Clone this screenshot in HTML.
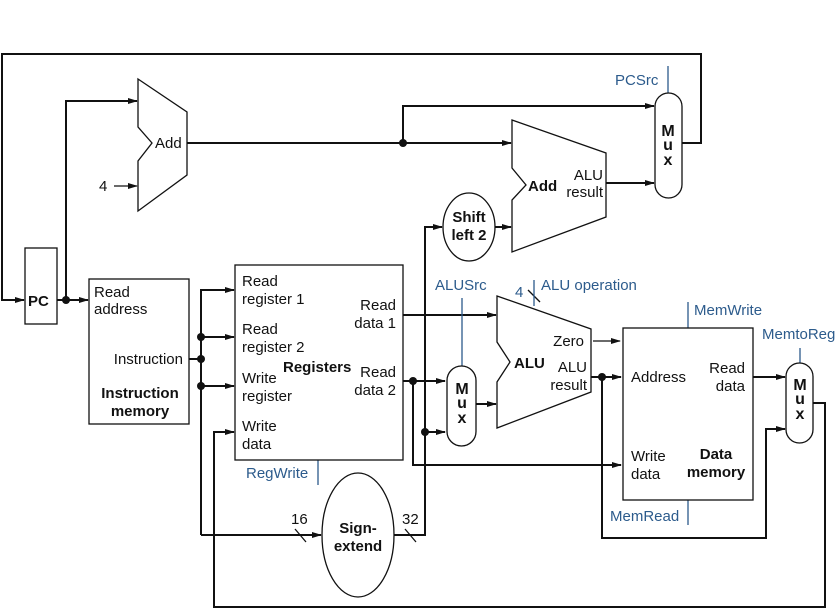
<!DOCTYPE html>
<html><head><style>
body{margin:0;background:#fff}
svg{display:block}
text{font-family:"Liberation Sans",Arial,sans-serif;font-size:15px;fill:#111}
.b{font-weight:bold}
.bl{fill:#2c5b8c}
.m{font-size:16px;font-weight:bold}
</style></head><body>
<svg width="840" height="614" viewBox="0 0 840 614" xmlns="http://www.w3.org/2000/svg">
<defs><marker id="a" markerWidth="10" markerHeight="8" refX="9" refY="4" orient="auto" markerUnits="userSpaceOnUse"><path d="M0,1 L10,4 L0,7 Z" fill="#111"/></marker></defs>
<g fill="none" stroke="#111" stroke-width="2">
<polyline points="682,143 701,143 701,54 2,54 2,300 24,300" marker-end="url(#a)"/>
<line x1="57" y1="300" x2="88" y2="300" marker-end="url(#a)"/>
<polyline points="66,300 66,101 137,101" marker-end="url(#a)"/>
<line x1="187" y1="143" x2="511" y2="143" marker-end="url(#a)"/>
<polyline points="403,143 403,106 654,106" marker-end="url(#a)"/>
<line x1="606" y1="183" x2="654" y2="183" marker-end="url(#a)"/>
<line x1="495" y1="227" x2="511" y2="227" marker-end="url(#a)"/>
<polyline points="394,535 425,535 425,227 442,227" marker-end="url(#a)"/>
<line x1="189" y1="359" x2="201" y2="359"/>
<polyline points="201,535 201,290 234,290" marker-end="url(#a)"/>
<line x1="201" y1="337" x2="234" y2="337" marker-end="url(#a)"/>
<line x1="201" y1="386" x2="234" y2="386" marker-end="url(#a)"/>
<line x1="201" y1="535" x2="321" y2="535" marker-end="url(#a)"/>
<line x1="403" y1="315" x2="496" y2="315" marker-end="url(#a)"/>
<line x1="403" y1="381" x2="445" y2="381" marker-end="url(#a)"/>
<polyline points="413,381 413,465 621,465" marker-end="url(#a)"/>
<line x1="425" y1="432" x2="445" y2="432" marker-end="url(#a)"/>
<line x1="476" y1="404" x2="496" y2="404" marker-end="url(#a)"/>
<line x1="591" y1="377" x2="621" y2="377" marker-end="url(#a)"/>
<polyline points="602,377 602,538 766,538 766,429 785,429" marker-end="url(#a)"/>
<line x1="753" y1="377" x2="785" y2="377" marker-end="url(#a)"/>
<polyline points="813,403 825,403 825,607 214,607 214,432 234,432" marker-end="url(#a)"/>
</g>
<g fill="none" stroke="#111" stroke-width="1.3">
<line x1="593" y1="341" x2="620" y2="341" marker-end="url(#a)"/>
<line x1="114" y1="186" x2="137" y2="186" marker-end="url(#a)"/>
<line x1="295" y1="529" x2="306" y2="542"/>
<line x1="405" y1="529" x2="416" y2="542"/>
<line x1="528" y1="290" x2="540" y2="302"/>
</g>
<g fill="#111">
<circle cx="66" cy="300" r="4"/><circle cx="403" cy="143" r="4"/>
<circle cx="201" cy="337" r="4"/><circle cx="201" cy="359" r="4"/><circle cx="201" cy="386" r="4"/>
<circle cx="413" cy="381" r="4"/><circle cx="425" cy="432" r="4"/><circle cx="602" cy="377" r="4"/>
</g>
<g stroke="#2c5b8c" stroke-width="1.3">
<line x1="668" y1="66" x2="668" y2="93"/>
<line x1="462" y1="298" x2="462" y2="366"/>
<line x1="534" y1="280" x2="534" y2="306"/>
<line x1="688" y1="302" x2="688" y2="328"/>
<line x1="688" y1="500" x2="688" y2="525"/>
<line x1="800" y1="348" x2="800" y2="363"/>
<line x1="318" y1="460" x2="318" y2="485"/>
</g>
<g fill="#fff" stroke="#111" stroke-width="1.3">
<rect x="25" y="248" width="32" height="76"/>
<rect x="89" y="279" width="100" height="145"/>
<rect x="235" y="265" width="168" height="195"/>
<rect x="623" y="328" width="130" height="172"/>
<polygon points="138,79 187,112 187,175 138,211 138,161 152,143 138,127"/>
<polygon points="512,120 606,153 606,217 512,252 512,200 526,185 512,168"/>
<polygon points="497,296 591,329 591,392 497,428 497,382 510,362 497,342"/>
<ellipse cx="469" cy="227" rx="26" ry="34"/>
<ellipse cx="358" cy="535" rx="36" ry="62"/>
<rect x="655" y="93" width="27" height="105" rx="13.5"/>
<rect x="447" y="366" width="29" height="80" rx="14.5"/>
<rect x="786" y="363" width="27" height="80" rx="13.5"/>
</g>
<text x="28" y="306" class="b">PC</text>
<text x="155" y="148">Add</text>
<text x="99" y="191">4</text>
<text x="94" y="297">Read</text><text x="94" y="314">address</text>
<text x="183" y="364" text-anchor="end">Instruction</text>
<text x="140" y="398" text-anchor="middle" class="b">Instruction</text>
<text x="140" y="416" text-anchor="middle" class="b">memory</text>
<text x="242" y="286">Read</text><text x="242" y="304">register 1</text>
<text x="242" y="334">Read</text><text x="242" y="352">register 2</text>
<text x="242" y="383">Write</text><text x="242" y="401">register</text>
<text x="242" y="431">Write</text><text x="242" y="449">data</text>
<text x="396" y="310" text-anchor="end">Read</text><text x="396" y="328" text-anchor="end">data 1</text>
<text x="396" y="377" text-anchor="end">Read</text><text x="396" y="395" text-anchor="end">data 2</text>
<text x="283" y="372" class="b">Registers</text>
<text x="246" y="478" class="bl">RegWrite</text>
<text x="291" y="524">16</text><text x="402" y="524">32</text>
<text x="358" y="533" text-anchor="middle" class="b">Sign-</text>
<text x="358" y="551" text-anchor="middle" class="b">extend</text>
<text x="469" y="222" text-anchor="middle" class="b">Shift</text>
<text x="469" y="240" text-anchor="middle" class="b">left 2</text>
<text x="528" y="191" class="b">Add</text>
<text x="603" y="180" text-anchor="end">ALU</text><text x="603" y="197" text-anchor="end">result</text>
<text x="615" y="85" class="bl">PCSrc</text>
<g text-anchor="middle">
<text x="668" y="136" class="m">M</text><text x="668" y="150" class="m">u</text><text x="668" y="165" class="m">x</text>
<text x="462" y="394" class="m">M</text><text x="462" y="408" class="m">u</text><text x="462" y="423" class="m">x</text>
<text x="800" y="390" class="m">M</text><text x="800" y="404" class="m">u</text><text x="800" y="419" class="m">x</text>
</g>
<text x="435" y="290" class="bl">ALUSrc</text>
<text x="515" y="297" class="bl">4</text>
<text x="541" y="290" class="bl">ALU operation</text>
<text x="514" y="368" class="b">ALU</text>
<text x="584" y="346" text-anchor="end">Zero</text>
<text x="587" y="372" text-anchor="end">ALU</text><text x="587" y="390" text-anchor="end">result</text>
<text x="694" y="315" class="bl">MemWrite</text>
<text x="762" y="339" class="bl">MemtoReg</text>
<text x="610" y="521" class="bl">MemRead</text>
<text x="631" y="382">Address</text>
<text x="745" y="373" text-anchor="end">Read</text><text x="745" y="391" text-anchor="end">data</text>
<text x="631" y="461">Write</text><text x="631" y="479">data</text>
<text x="716" y="459" text-anchor="middle" class="b">Data</text>
<text x="716" y="477" text-anchor="middle" class="b">memory</text>
</svg>
</body></html>
